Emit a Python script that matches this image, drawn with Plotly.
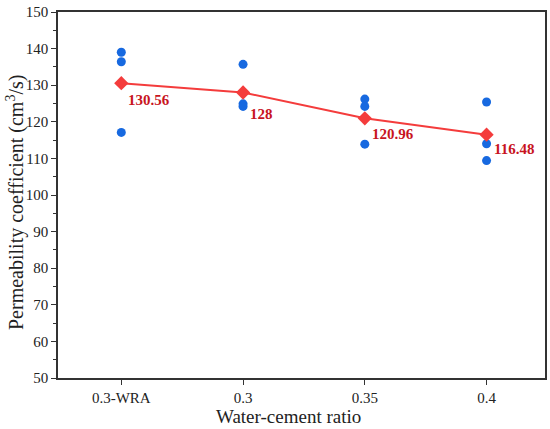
import plotly.graph_objects as go

categories = ["0.3-WRA", "0.3", "0.35", "0.4"]

# individual test values (3 specimens per group)
sample_x = ["0.3-WRA", "0.3-WRA", "0.3-WRA",
            "0.3", "0.3", "0.3",
            "0.35", "0.35", "0.35",
            "0.4", "0.4", "0.4"]
sample_y = [139.0, 136.4, 117.1,
            135.7, 124.9, 124.2,
            126.2, 124.2, 113.9,
            125.4, 114.0, 109.4]

# group means
mean_y = [130.56, 128, 120.96, 116.48]
mean_labels = ["130.56", "128", "120.96", "116.48"]
label_drop = [-7, -11, -6, -4]

font = "Liberation Serif, Times New Roman, serif"

fig = go.Figure()
fig.add_trace(go.Scatter(
    x=sample_x, y=sample_y, mode="markers",
    marker=dict(color="#1769e0", size=9),
    showlegend=False,
))
fig.add_trace(go.Scatter(
    x=categories, y=mean_y, mode="lines+markers",
    line=dict(color="#f43c3c", width=2),
    marker=dict(color="#f43c3c", size=11, symbol="diamond"),
    showlegend=False,
))

# category axis: annotations placed by category index
for i, (v, t) in enumerate(zip(mean_y, mean_labels)):
    fig.add_annotation(
        x=i, y=v, text="<b>" + t + "</b>", showarrow=False,
        xanchor="left", yanchor="top", xshift=5, yshift=label_drop[i],
        font=dict(family=font, size=15, color="#c8141e"),
    )

# axis titles as annotations so they sit where the reference has them
fig.add_annotation(
    xref="paper", yref="paper", x=0.5, y=0, text="Water-cement ratio",
    showarrow=False, xanchor="center", yanchor="middle", xshift=-13, yshift=-38,
    font=dict(family=font, size=19, color="#222"),
)
fig.add_annotation(
    xref="paper", yref="paper", x=0, y=0.5,
    text="Permeability coefficient (cm<sup>3</sup>/s)",
    showarrow=False, textangle=-90, xanchor="center", yanchor="middle",
    xshift=-43, yshift=-8,
    font=dict(family=font, size=20, color="#222"),
)

fig.update_layout(
    width=550, height=429,
    margin=dict(l=58, r=5, t=12, b=51),
    paper_bgcolor="white", plot_bgcolor="white",
    font=dict(family=font, size=15, color="#222"),
)
fig.update_xaxes(
    type="category", range=[-0.52, 3.48], automargin=False,
    showline=True, linecolor="#333", linewidth=1.5, mirror=True,
    ticks="outside", ticklen=5, tickcolor="#333",
    showgrid=False,
)
fig.update_yaxes(
    range=[50, 150], dtick=10, automargin=False,
    showline=True, linecolor="#333", linewidth=1.5, mirror=True,
    ticks="outside", ticklen=5, tickcolor="#333",
    minor=dict(dtick=5, ticks="outside", ticklen=3, tickcolor="#333"),
    showgrid=False, zeroline=False,
)

# drop the default 8px body margin so the figure fills the window
fig.write_html("out.html", config={"displayModeBar": False},
               post_script="document.body.style.margin='0';")
